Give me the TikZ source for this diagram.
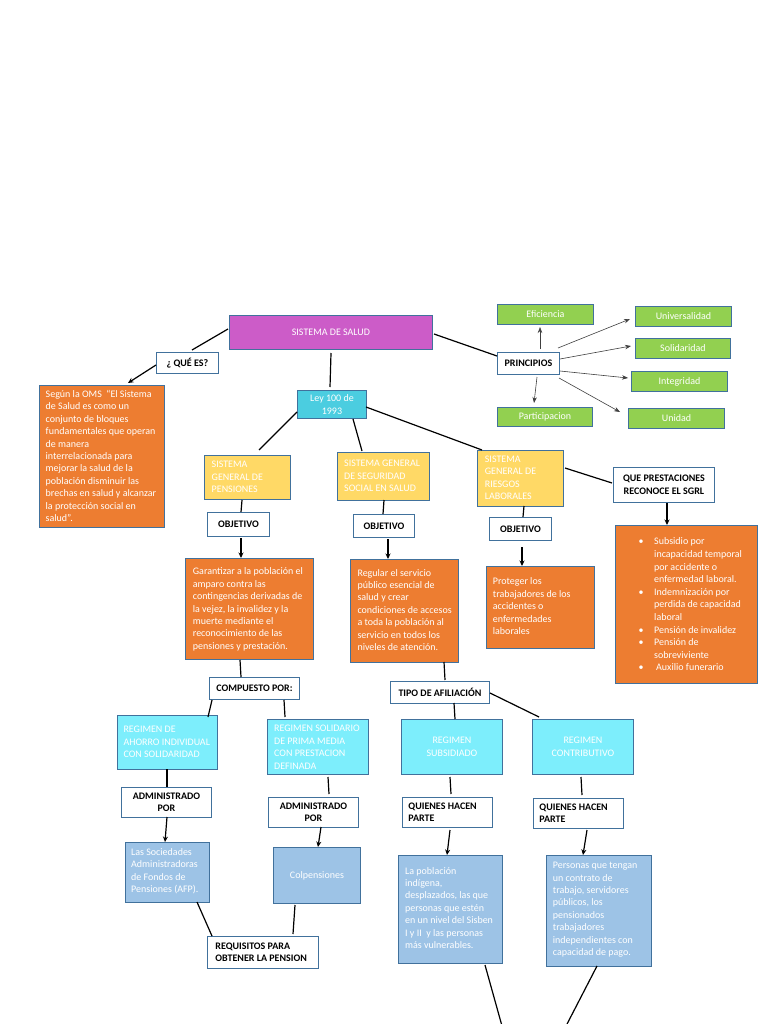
\documentclass[tikz,border=0pt]{standalone}
\usepackage{fontspec}
\setmainfont{Carlito}
\usetikzlibrary{calc,arrows.meta}
\definecolor{bord}{RGB}{65,113,156}
\definecolor{mag}{RGB}{204,92,200}
\definecolor{leyc}{RGB}{75,205,224}
\definecolor{grn}{RGB}{146,208,80}
\definecolor{org}{RGB}{237,125,49}
\definecolor{yel}{RGB}{255,217,102}
\definecolor{lcy}{RGB}{125,238,252}
\definecolor{lbl}{RGB}{157,195,230}
\newcommand\fs{\fontsize{10}{12.4}\selectfont}
\newcommand\bitem{\makebox[15.5pt][l]{•}}
\newcommand\bind{\hspace*{15.5pt}}
\tikzset{
  bx/.style={draw=bord, line width=0.9pt, inner sep=0pt, anchor=north west},
  lab/.style={bx, fill=white, font=\fs\bfseries, align=center, text=black},
  ctr/.style={bx, font=\fs, align=center, text=white},
  wt/.style={anchor=north west, inner sep=0pt, align=left, text=white, font=\fs},
  ln/.style={line width=1.2pt, draw=black},
  ar/.style={ln, -{Stealth[length=5.5pt,width=5pt]}},
  tar/.style={line width=0.6pt, draw=black!75, -{Stealth[length=6pt,width=4.5pt]}},
}
\begin{document}
\begin{tikzpicture}[x=1pt,y=-1pt]
\useasboundingbox[fill=white] (0,0) rectangle (768,1024);

% ---- top level
\node[ctr, fill=mag, minimum width=203pt, minimum height=34pt] (sal) at (229,315) {SISTEMA DE SALUD};
\node[lab, minimum width=62pt, minimum height=21pt] (que) at (156,352) {¿ QUÉ ES?};
\node[bx, fill=org, minimum width=125pt, minimum height=142pt] (oms) at (39,385) {};
\node[wt] (omsT) at (45.5,390) {Según la OMS \ “El Sistema\\de Salud es como un\\conjunto de bloques\\fundamentales que operan\\de manera\\interrelacionada para\\mejorar la salud de la\\población disminuir las\\brechas en salud y alcanzar\\la protección social en\\salud”.};
\node[ctr, fill=leyc, minimum width=69pt, minimum height=28pt] (ley) at (297,390) {Ley 100 de\\1993};

% ---- principios
\node[lab, minimum width=62pt, minimum height=22pt] (pri) at (497,352) {PRINCIPIOS};
\node[ctr, fill=grn, minimum width=96pt, minimum height=20pt] (efi) at (497,304) {Eficiencia};
\node[ctr, fill=grn, minimum width=96pt, minimum height=20pt] (uni) at (635,306) {Universalidad};
\node[ctr, fill=grn, minimum width=95pt, minimum height=20pt] (sol) at (635,338) {Solidaridad};
\node[ctr, fill=grn, minimum width=96pt, minimum height=20pt] (int) at (631,371) {Integridad};
\node[ctr, fill=grn, minimum width=95pt, minimum height=19pt] (par) at (497,407) {Participacion};
\node[ctr, fill=grn, minimum width=96pt, minimum height=20pt] (und) at (628,408) {Unidad};

% ---- three systems
\node[bx, fill=yel, minimum width=86pt, minimum height=44pt] (pen) at (204,455) {};
\node[wt] (penT) at (211.5,461) {SISTEMA\\GENERAL DE\\PENSIONES};
\node[bx, fill=yel, minimum width=92pt, minimum height=48pt] (sgs) at (337,452) {};
\node[wt] (sgsT) at (344,460.3) {SISTEMA GENERAL\\DE SEGURIDAD\\SOCIAL EN SALUD};
\node[bx, fill=yel, minimum width=86pt, minimum height=56pt] (rie) at (477,450) {};
\node[wt] (rieT) at (484.7,455.6) {SISTEMA\\GENERAL DE\\RIESGOS\\LABORALES};

\node[lab, minimum width=62pt, minimum height=24pt] (ob1) at (207,512) {OBJETIVO};
\node[lab, minimum width=61pt, minimum height=23pt] (ob2) at (353,514) {OBJETIVO};
\node[lab, minimum width=62pt, minimum height=23pt] (ob3) at (489,517) {OBJETIVO};
\node[lab, minimum width=101pt, minimum height=35pt] (qpr) at (613,467) {QUE PRESTACIONES\\RECONOCE EL SGRL};

\node[bx, fill=org, minimum width=128pt, minimum height=101pt] (gar) at (185,558) {};
\node[wt] (garT) at (192.7,567.7) {Garantizar a la población el\\amparo contra las\\contingencias derivadas de\\la vejez, la invalidez y la\\muerte mediante el\\reconocimiento de las\\pensiones y prestación.};
\node[bx, fill=org, minimum width=108pt, minimum height=103pt] (reg) at (350,559) {};
\node[wt] (regT) at (357.3,569) {Regular el servicio\\público esencial de\\salud y crear\\condiciones de accesos\\a toda la población al\\servicio en todos los\\niveles de atención.};
\node[bx, fill=org, minimum width=108pt, minimum height=82pt] (pro) at (486,566) {};
\node[wt] (proT) at (492.7,577.7) {Proteger los\\trabajadores de los\\accidentes o\\enfermedades\\laborales};
\node[bx, fill=org, minimum width=142pt, minimum height=158pt] (bul) at (615,525) {};
\node[wt, font=\fontsize{10}{12.6}\selectfont] (bulT) at (638.5,537.7) {\bitem Subsidio por\\\bind incapacidad temporal\\\bind por accidente o\\\bind enfermedad laboral.\\\bitem Indemnización por\\\bind perdida de capacidad\\\bind laboral\\\bitem Pensión de invalidez\\\bitem Pensión de\\\bind sobreviviente\\\bitem \hspace*{2pt}Auxilio funerario};

% ---- lower part
\node[lab, minimum width=90pt, minimum height=22pt] (com) at (209,677) {COMPUESTO POR:};
\node[lab, minimum width=99pt, minimum height=22pt] (tip) at (390,681) {TIPO DE AFILIACIÓN};
\node[bx, fill=lcy, minimum width=100pt, minimum height=54pt] (aho) at (117,715) {};
\node[wt] (ahoT) at (123.3,726.3) {REGIMEN DE\\AHORRO INDIVIDUAL\\CON SOLIDARIDAD};
\node[bx, fill=lcy, minimum width=101pt, minimum height=55pt] (rso) at (267,719) {};
\node[wt] (rsoT) at (274,725.3) {REGIMEN SOLIDARIO\\DE PRIMA MEDIA\\CON PRESTACION\\DEFINADA};
\node[ctr, fill=lcy, minimum width=101pt, minimum height=55pt] (sub) at (401,719) {REGIMEN\\SUBSIDIADO};
\node[ctr, fill=lcy, minimum width=101pt, minimum height=55pt] (con) at (532,719) {REGIMEN\\CONTRIBUTIVO};

\node[lab, minimum width=90pt, minimum height=30pt] (ad1) at (121,787) {ADMINISTRADO\\POR};
\node[lab, minimum width=90pt, minimum height=30pt] (ad2) at (268,797) {ADMINISTRADO\\POR};
\node[lab, align=flush left, text width=78pt, minimum width=90pt, minimum height=30pt] (qh1) at (402,797) {QUIENES HACEN\\PARTE};
\node[lab, align=flush left, text width=78pt, minimum width=90pt, minimum height=30pt] (qh2) at (533,798) {QUIENES HACEN\\PARTE};

\node[bx, fill=lbl, minimum width=84pt, minimum height=60pt] (soc) at (125,842) {};
\node[wt] (socT) at (131,848.3) {Las Sociedades\\Administradoras\\de Fondos de\\Pensiones (AFP).};
\node[ctr, fill=lbl, minimum width=87pt, minimum height=56pt] (col) at (273,847) {Colpensiones};
\node[lab, align=flush left, text width=95pt, minimum width=111pt, minimum height=32pt] (req) at (207,936) {REQUISITOS PARA\\OBTENER LA PENSION};
\node[bx, fill=lbl, minimum width=104pt, minimum height=108pt] (pob) at (398,855) {};
\node[wt] (pobT) at (405,867) {La población\\indígena,\\desplazados, las que\\personas que estén\\en un nivel del Sisben\\I y II \ y las personas\\más vulnerables.};
\node[bx, fill=lbl, minimum width=105pt, minimum height=111pt] (per) at (546,855) {};
\node[wt] (perT) at (552.7,862) {Personas que tengan\\un contrato de\\trabajo, servidores\\públicos, los\\pensionados\\trabajadores\\independientes con\\capacidad de pago.};

\coordinate (b1) at (502,1026);
\coordinate (b2) at (566,1026);

% ---- connectors
\draw[ln] ($(sal.north west)+(-1,14)$) -- ($(que.north west)+(36,-2)$);
\draw[ar] ($(que.north west)+(0,13)$) -- ($(oms.north west)+(89,-2)$);
\draw[ln] ($(sal.north west)+(102,38)$) -- ($(ley.north west)+(33,-3)$);
\draw[ln] ($(sal.north west)+(205,19)$) -- ($(pri.north west)+(0,4)$);
\draw[tar] ($(pri.north west)+(43,-3)$) -- ($(efi.north west)+(43,23)$);
\draw[tar] ($(pri.north west)+(61,-4)$) -- ($(uni.north west)+(-5,13)$);
\draw[tar] ($(pri.north west)+(63,7)$) -- ($(sol.north west)+(-4,8)$);
\draw[tar] ($(pri.north west)+(63,19)$) -- ($(int.north west)+(-3,7)$);
\draw[tar] ($(pri.north west)+(62,26)$) -- ($(und.north west)+(-8,4)$);
\draw[tar] ($(pri.north west)+(40,25)$) -- ($(par.north west)+(37,-4)$);
\draw[ln] ($(ley.north west)+(0,22)$) -- ($(pen.north west)+(55,-5)$);
\draw[ln] ($(ley.north west)+(56,29)$) -- ($(sgs.north west)+(25,-1)$);
\draw[ln] ($(ley.north west)+(69,17)$) -- ($(rie.north west)+(5,0)$);
\draw[ln] ($(pen.north west)+(38,45)$) -- ($(ob1.north west)+(34,0)$);
\draw[ln] ($(sgs.north west)+(47,48)$) -- ($(ob2.north west)+(30,0)$);
\draw[ln] ($(rie.north west)+(47,56)$) -- ($(ob3.north west)+(34,0)$);
\draw[ar] ($(ob1.north west)+(34,26)$) -- ($(gar.north west)+(56,0)$);
\draw[ar] ($(ob2.north west)+(35,25)$) -- ($(reg.north west)+(38,0)$);
\draw[ar] ($(ob3.north west)+(33,30)$) -- ($(pro.north west)+(36,0)$);
\draw[ln] ($(rie.north west)+(88,18)$) -- ($(qpr.north west)+(-1,16)$);
\draw[ar] ($(qpr.north west)+(54,36)$) -- ($(bul.north west)+(52,0)$);
\draw[ln] ($(gar.north west)+(55,102)$) -- ($(com.north west)+(32,0)$);
\draw[ln] ($(reg.north west)+(94,103)$) -- ($(tip.north west)+(55,-1)$);
\draw[ln] ($(com.north west)+(3,23)$) -- ($(aho.north west)+(91,2)$);
\draw[ln] ($(com.north west)+(75,23)$) -- ($(rso.north west)+(18,-2)$);
\draw[ln] ($(aho.north west)+(50,54)$) -- ($(ad1.north west)+(46,0)$);
\draw[ln] ($(rso.north west)+(61,58)$) -- ($(ad2.north west)+(61,-3)$);
\draw[ar] ($(ad1.north west)+(46,30)$) -- ($(soc.north west)+(40,0)$);
\draw[ar] ($(ad2.north west)+(53,30)$) -- ($(col.north west)+(45,0)$);
\draw[ln] ($(soc.north west)+(72,60)$) -- ($(req.north west)+(5,0)$);
\draw[ln] ($(col.north west)+(22,58)$) -- ($(req.north west)+(86,-2)$);
\draw[ln] ($(tip.north west)+(64,22)$) -- ($(sub.north west)+(54,0)$);
\draw[ln] ($(tip.north west)+(100,12)$) -- ($(con.north west)+(7,-2)$);
\draw[ln] ($(sub.north west)+(49,58)$) -- ($(qh1.north west)+(49,-3)$);
\draw[ln] ($(con.north west)+(49,58)$) -- ($(qh2.north west)+(49,-3)$);
\draw[ar] ($(qh1.north west)+(48,33)$) -- ($(pob.north west)+(49,0)$);
\draw[ar] ($(qh2.north west)+(54,32)$) -- ($(per.north west)+(37,0)$);
\draw[ln] ($(pob.north west)+(87,110)$) -- (b1);
\draw[ln] ($(per.north west)+(51,111)$) -- (b2);
\end{tikzpicture}
\end{document}
